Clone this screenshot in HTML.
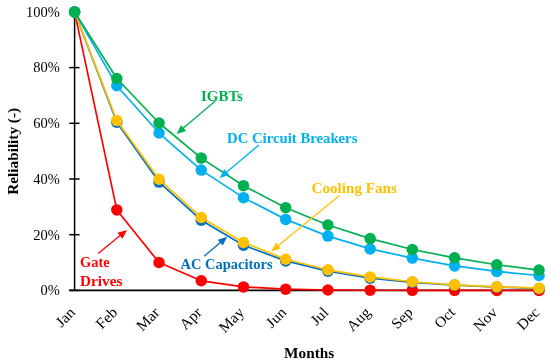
<!DOCTYPE html>
<html><head><meta charset="utf-8"><style>
html,body{margin:0;padding:0;background:#fff;}
svg{display:block;}
.tl{font-family:"Liberation Serif",serif;font-size:14.5px;fill:#000;}
.xl{font-family:"Liberation Serif",serif;font-size:15.0px;fill:#000;}
.lb{font-family:"Liberation Serif",serif;font-size:14.5px;font-weight:bold;}
</style></head><body>
<svg width="550" height="364" viewBox="0 0 550 364">
<line x1="74.6" y1="11.899999999999977" x2="74.6" y2="290.4" stroke="#000" stroke-width="1.5"/>
<line x1="69.2" y1="290.40" x2="79.6" y2="290.40" stroke="#000" stroke-width="1.5"/>
<line x1="69.2" y1="234.70" x2="79.6" y2="234.70" stroke="#000" stroke-width="1.5"/>
<line x1="69.2" y1="179.00" x2="79.6" y2="179.00" stroke="#000" stroke-width="1.5"/>
<line x1="69.2" y1="123.30" x2="79.6" y2="123.30" stroke="#000" stroke-width="1.5"/>
<line x1="69.2" y1="67.60" x2="79.6" y2="67.60" stroke="#000" stroke-width="1.5"/>
<line x1="69.2" y1="11.90" x2="79.6" y2="11.90" stroke="#000" stroke-width="1.5"/>
<line x1="69.2" y1="290.4" x2="539.02" y2="290.4" stroke="#000" stroke-width="1.6"/>
<text x="59.8" y="295.20" text-anchor="end" class="tl">0%</text>
<text x="59.8" y="239.50" text-anchor="end" class="tl">20%</text>
<text x="59.8" y="183.80" text-anchor="end" class="tl">40%</text>
<text x="59.8" y="128.10" text-anchor="end" class="tl">60%</text>
<text x="59.8" y="72.40" text-anchor="end" class="tl">80%</text>
<text x="59.8" y="16.70" text-anchor="end" class="tl">100%</text>
<text x="76.10" y="313.30" text-anchor="end" class="xl" transform="rotate(-45 76.10 313.30)" textLength="20.81" lengthAdjust="spacingAndGlyphs">Jan</text>
<text x="118.32" y="313.30" text-anchor="end" class="xl" transform="rotate(-45 118.32 313.30)" textLength="23.40" lengthAdjust="spacingAndGlyphs">Feb</text>
<text x="160.54" y="313.30" text-anchor="end" class="xl" transform="rotate(-45 160.54 313.30)" textLength="26.00" lengthAdjust="spacingAndGlyphs">Mar</text>
<text x="202.76" y="313.30" text-anchor="end" class="xl" transform="rotate(-45 202.76 313.30)" textLength="24.27" lengthAdjust="spacingAndGlyphs">Apr</text>
<text x="244.98" y="313.30" text-anchor="end" class="xl" transform="rotate(-45 244.98 313.30)" textLength="28.61" lengthAdjust="spacingAndGlyphs">May</text>
<text x="287.20" y="313.30" text-anchor="end" class="xl" transform="rotate(-45 287.20 313.30)" textLength="21.69" lengthAdjust="spacingAndGlyphs">Jun</text>
<text x="329.42" y="313.30" text-anchor="end" class="xl" transform="rotate(-45 329.42 313.30)" textLength="18.20" lengthAdjust="spacingAndGlyphs">Jul</text>
<text x="371.64" y="313.30" text-anchor="end" class="xl" transform="rotate(-45 371.64 313.30)" textLength="26.88" lengthAdjust="spacingAndGlyphs">Aug</text>
<text x="413.86" y="313.30" text-anchor="end" class="xl" transform="rotate(-45 413.86 313.30)" textLength="23.40" lengthAdjust="spacingAndGlyphs">Sep</text>
<text x="456.08" y="313.30" text-anchor="end" class="xl" transform="rotate(-45 456.08 313.30)" textLength="22.53" lengthAdjust="spacingAndGlyphs">Oct</text>
<text x="498.30" y="313.30" text-anchor="end" class="xl" transform="rotate(-45 498.30 313.30)" textLength="26.88" lengthAdjust="spacingAndGlyphs">Nov</text>
<text x="540.52" y="313.30" text-anchor="end" class="xl" transform="rotate(-45 540.52 313.30)" textLength="25.11" lengthAdjust="spacingAndGlyphs">Dec</text>
<polyline points="74.60,11.90 116.82,209.91 159.04,262.55 201.26,280.79 243.48,286.89 285.70,289.17 327.92,289.98 370.14,290.26 412.36,290.34 454.58,290.37 496.80,290.40 539.02,290.40" fill="none" stroke="#FF0000" stroke-width="1.7" stroke-linejoin="round"/>
<circle cx="74.60" cy="11.90" r="5.75" fill="#FF0000"/>
<circle cx="116.82" cy="209.91" r="5.75" fill="#FF0000"/>
<circle cx="159.04" cy="262.55" r="5.75" fill="#FF0000"/>
<circle cx="201.26" cy="280.79" r="5.75" fill="#FF0000"/>
<circle cx="243.48" cy="286.89" r="5.75" fill="#FF0000"/>
<circle cx="285.70" cy="289.17" r="5.75" fill="#FF0000"/>
<circle cx="327.92" cy="289.98" r="5.75" fill="#FF0000"/>
<circle cx="370.14" cy="290.26" r="5.75" fill="#FF0000"/>
<circle cx="412.36" cy="290.34" r="5.75" fill="#FF0000"/>
<circle cx="454.58" cy="290.37" r="5.75" fill="#FF0000"/>
<circle cx="496.80" cy="290.40" r="5.75" fill="#FF0000"/>
<circle cx="539.02" cy="290.40" r="5.75" fill="#FF0000"/>
<polyline points="74.60,11.90 116.82,122.19 159.04,182.06 201.26,220.22 243.48,245.28 285.70,260.88 327.92,271.18 370.14,278.15 412.36,282.32 454.58,285.11 496.80,287.06 539.02,288.45" fill="none" stroke="#0070C0" stroke-width="1.7" stroke-linejoin="round"/>
<circle cx="74.60" cy="11.90" r="5.75" fill="#0070C0"/>
<circle cx="116.82" cy="122.19" r="5.75" fill="#0070C0"/>
<circle cx="159.04" cy="182.06" r="5.75" fill="#0070C0"/>
<circle cx="201.26" cy="220.22" r="5.75" fill="#0070C0"/>
<circle cx="243.48" cy="245.28" r="5.75" fill="#0070C0"/>
<circle cx="285.70" cy="260.88" r="5.75" fill="#0070C0"/>
<circle cx="327.92" cy="271.18" r="5.75" fill="#0070C0"/>
<circle cx="370.14" cy="278.15" r="5.75" fill="#0070C0"/>
<circle cx="412.36" cy="282.32" r="5.75" fill="#0070C0"/>
<circle cx="454.58" cy="285.11" r="5.75" fill="#0070C0"/>
<circle cx="496.80" cy="287.06" r="5.75" fill="#0070C0"/>
<circle cx="539.02" cy="288.45" r="5.75" fill="#0070C0"/>
<polyline points="74.60,11.90 116.82,120.51 159.04,179.28 201.26,217.43 243.48,242.50 285.70,259.21 327.92,269.79 370.14,276.89 412.36,281.77 454.58,284.83 496.80,286.78 539.02,288.17" fill="none" stroke="#FFC000" stroke-width="1.7" stroke-linejoin="round"/>
<circle cx="74.60" cy="11.90" r="5.75" fill="#FFC000"/>
<circle cx="116.82" cy="120.51" r="5.75" fill="#FFC000"/>
<circle cx="159.04" cy="179.28" r="5.75" fill="#FFC000"/>
<circle cx="201.26" cy="217.43" r="5.75" fill="#FFC000"/>
<circle cx="243.48" cy="242.50" r="5.75" fill="#FFC000"/>
<circle cx="285.70" cy="259.21" r="5.75" fill="#FFC000"/>
<circle cx="327.92" cy="269.79" r="5.75" fill="#FFC000"/>
<circle cx="370.14" cy="276.89" r="5.75" fill="#FFC000"/>
<circle cx="412.36" cy="281.77" r="5.75" fill="#FFC000"/>
<circle cx="454.58" cy="284.83" r="5.75" fill="#FFC000"/>
<circle cx="496.80" cy="286.78" r="5.75" fill="#FFC000"/>
<circle cx="539.02" cy="288.17" r="5.75" fill="#FFC000"/>
<polyline points="74.60,11.90 116.82,85.70 159.04,133.05 201.26,170.09 243.48,197.66 285.70,219.38 327.92,236.09 370.14,248.90 412.36,258.09 454.58,265.89 496.80,271.46 539.02,275.50" fill="none" stroke="#00B0F0" stroke-width="1.7" stroke-linejoin="round"/>
<circle cx="74.60" cy="11.90" r="5.75" fill="#00B0F0"/>
<circle cx="116.82" cy="85.70" r="5.75" fill="#00B0F0"/>
<circle cx="159.04" cy="133.05" r="5.75" fill="#00B0F0"/>
<circle cx="201.26" cy="170.09" r="5.75" fill="#00B0F0"/>
<circle cx="243.48" cy="197.66" r="5.75" fill="#00B0F0"/>
<circle cx="285.70" cy="219.38" r="5.75" fill="#00B0F0"/>
<circle cx="327.92" cy="236.09" r="5.75" fill="#00B0F0"/>
<circle cx="370.14" cy="248.90" r="5.75" fill="#00B0F0"/>
<circle cx="412.36" cy="258.09" r="5.75" fill="#00B0F0"/>
<circle cx="454.58" cy="265.89" r="5.75" fill="#00B0F0"/>
<circle cx="496.80" cy="271.46" r="5.75" fill="#00B0F0"/>
<circle cx="539.02" cy="275.50" r="5.75" fill="#00B0F0"/>
<polyline points="74.60,11.90 116.82,78.46 159.04,123.02 201.26,158.11 243.48,185.68 285.70,207.69 327.92,224.95 370.14,238.60 412.36,249.46 454.58,257.82 496.80,264.78 539.02,270.07" fill="none" stroke="#00B050" stroke-width="1.7" stroke-linejoin="round"/>
<circle cx="74.60" cy="11.90" r="5.75" fill="#00B050"/>
<circle cx="116.82" cy="78.46" r="5.75" fill="#00B050"/>
<circle cx="159.04" cy="123.02" r="5.75" fill="#00B050"/>
<circle cx="201.26" cy="158.11" r="5.75" fill="#00B050"/>
<circle cx="243.48" cy="185.68" r="5.75" fill="#00B050"/>
<circle cx="285.70" cy="207.69" r="5.75" fill="#00B050"/>
<circle cx="327.92" cy="224.95" r="5.75" fill="#00B050"/>
<circle cx="370.14" cy="238.60" r="5.75" fill="#00B050"/>
<circle cx="412.36" cy="249.46" r="5.75" fill="#00B050"/>
<circle cx="454.58" cy="257.82" r="5.75" fill="#00B050"/>
<circle cx="496.80" cy="264.78" r="5.75" fill="#00B050"/>
<circle cx="539.02" cy="270.07" r="5.75" fill="#00B050"/>
<line x1="215.30" y1="101.10" x2="182.86" y2="128.60" stroke="#00B050" stroke-width="1.3"/><polygon points="176.60,133.90 181.10,124.98 186.14,130.93" fill="#00B050"/>
<line x1="259.00" y1="144.90" x2="225.97" y2="172.72" stroke="#00B0F0" stroke-width="1.3"/><polygon points="219.70,178.00 224.22,169.09 229.25,175.06" fill="#00B0F0"/>
<line x1="339.70" y1="195.30" x2="277.64" y2="246.20" stroke="#FFC000" stroke-width="1.3"/><polygon points="271.30,251.40 275.94,242.55 280.89,248.58" fill="#FFC000"/>
<line x1="204.10" y1="256.25" x2="220.94" y2="242.00" stroke="#0070C0" stroke-width="1.3"/><polygon points="227.20,236.70 222.70,245.62 217.66,239.67" fill="#0070C0"/>
<line x1="98.20" y1="253.50" x2="120.75" y2="235.09" stroke="#FF0000" stroke-width="1.3"/><polygon points="127.10,229.90 122.44,238.74 117.51,232.70" fill="#FF0000"/>
<text x="201" y="101" class="lb" fill="#00B050" textLength="41.9" lengthAdjust="spacingAndGlyphs">IGBTs</text>
<text x="227" y="142.5" class="lb" fill="#00B0F0" textLength="130.4" lengthAdjust="spacingAndGlyphs">DC Circuit Breakers</text>
<text x="311.5" y="192.6" class="lb" fill="#FFC000" textLength="85.4" lengthAdjust="spacingAndGlyphs">Cooling Fans</text>
<text x="180.5" y="269" class="lb" fill="#0070C0" textLength="92.2" lengthAdjust="spacingAndGlyphs">AC Capacitors</text>
<text x="80" y="266.9" class="lb" fill="#FF0000" textLength="29.6" lengthAdjust="spacingAndGlyphs">Gate</text>
<text x="80" y="285.7" class="lb" fill="#FF0000" textLength="42.4" lengthAdjust="spacingAndGlyphs">Drives</text>
<text x="284.1" y="358" class="lb" fill="#000" textLength="50.1" lengthAdjust="spacingAndGlyphs">Months</text>
<text x="18.4" y="151.3" class="lb" text-anchor="middle" fill="#000" transform="rotate(-90 18.4 151.3)" textLength="86.7" lengthAdjust="spacingAndGlyphs">Reliability (-)</text>
</svg>
</body></html>
